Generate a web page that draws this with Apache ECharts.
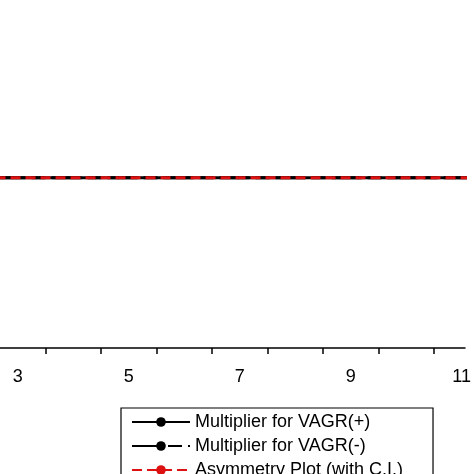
<!DOCTYPE html>
<html><head><meta charset="utf-8">
<script src="https://cdn.jsdelivr.net/npm/echarts@6/dist/echarts.min.js"></script>
<style>html,body{margin:0;padding:0;background:#fff}#c{width:474px;height:474px}</style>
</head><body><div id="c"></div>
<script>
const xs = [2.6, 4, 6, 8, 10, 11.2];
const positive = [0, 0, 0, 0, 0, 0];
const negative = [0, 0, 0, 0, 0, 0];
const asymmetry = [0, 0, 0, 0, 0, 0];
const labelValues = [3, 5, 7, 9, 11];
const tickValues = [3.5, 4.5, 5.5, 6.5, 7.5, 8.5, 9.5, 10.5];
const names = ['Multiplier for VAGR(+)', 'Multiplier for VAGR(-)', 'Asymmetry Plot (with C.I.)'];

const pair = arr => xs.map((x, i) => [x, arr[i]]);
const chart = echarts.init(document.getElementById('c'));
chart.setOption({
  animation: false,
  grid: { left: 0, right: 0, top: 0, bottom: 126, containLabel: false },
  xAxis: {
    type: 'value', min: 2.68, max: 11.06,
    axisLine: { onZero: false, lineStyle: { color: '#000', width: 1.5 } },
    axisTick: { inside: false, length: 6, customValues: tickValues, lineStyle: { color: '#000', width: 1.5 } },
    axisLabel: { customValues: labelValues, color: '#000', fontSize: 18, fontFamily: 'Liberation Sans', margin: 20 },
    splitLine: { show: false }
  },
  yAxis: { type: 'value', min: -0.957, max: 1, show: false },
  legend: {
    orient: 'vertical', left: 121, top: 408, height: 200, width: 400, padding: [5, 30, 20, 10],
    itemWidth: 58, itemHeight: 12, itemGap: 6,
    borderColor: '#000', borderWidth: 1.2, backgroundColor: '#fff',
    textStyle: { color: '#000', fontSize: 18, fontFamily: 'Liberation Sans' },
    data: names
  },
  series: [
    { name: names[0], type: 'line', symbol: 'none', data: pair(positive),
      lineStyle: { color: '#000', width: 3 }, itemStyle: { color: '#000' } },
    { name: names[1], type: 'line', symbol: 'none', data: pair(negative),
      lineStyle: { color: '#000', width: 3, type: [30, 6, 14, 6] }, itemStyle: { color: '#000' } },
    { name: names[2], type: 'line', symbol: 'none', data: pair(asymmetry),
      lineStyle: { color: '#d11', width: 3, type: [10, 5] }, itemStyle: { color: '#d11' } }
  ]
});
</script></body></html>
